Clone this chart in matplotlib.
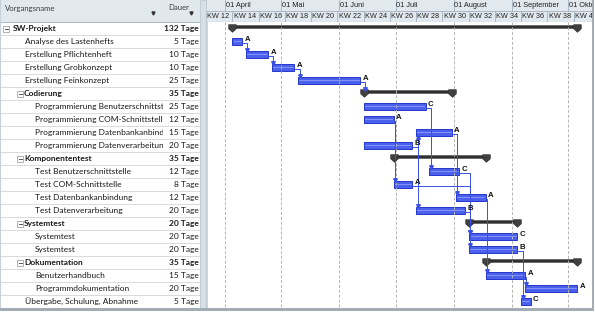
import matplotlib
matplotlib.use("Agg")
import matplotlib.pyplot as plt
import matplotlib.dates as mdates
from matplotlib.patches import Rectangle

W, H = 595, 316

# Vorgangsliste
namen = ["SW-Projekt", "Analyse des Lastenhefts", "Erstellung Pflichtenheft",
         "Erstellung Grobkonzept", "Erstellung Feinkonzept", "Codierung",
         "Programmierung Benutzerschnittstelle", "Programmierung COM-Schnittstelle",
         "Programmierung Datenbankanbindung", "Programmierung Datenverarbeitung",
         "Komponententest", "Test Benutzerschnittstelle", "Test COM-Schnittstelle",
         "Test Datenbankanbindung", "Test Datenverarbeitung", "Systemtest",
         "Systemtest", "Systemtest", "Dokumentation", "Benutzerhandbuch",
         "Programmdokumentation", "Übergabe, Schulung, Abnahme"]
dauer = [132, 5, 10, 10, 25, 35, 25, 12, 15, 20, 35, 12, 8, 12, 20, 20, 20, 20, 35, 15, 20, 5]
ebene = [0, 1, 1, 1, 1, 1, 2, 2, 2, 2, 1, 2, 2, 2, 2, 1, 2, 2, 1, 2, 2, 1]
sammel = [1, 0, 0, 0, 0, 1, 0, 0, 0, 0, 1, 0, 0, 0, 0, 1, 0, 0, 1, 0, 0, 0]
start = ["2010-04-05", "2010-04-05", "2010-04-12", "2010-04-26", "2010-05-10",
         "2010-06-14", "2010-06-14", "2010-06-14", "2010-07-12", "2010-06-14",
         "2010-06-30", "2010-07-19", "2010-06-30", "2010-08-02", "2010-07-12",
         "2010-08-09", "2010-08-09", "2010-08-09", "2010-08-18", "2010-08-18",
         "2010-09-08", "2010-09-06"]
ende = ["2010-10-06", "2010-04-10", "2010-04-24", "2010-05-08", "2010-06-12",
        "2010-07-31", "2010-07-17", "2010-06-30", "2010-07-31", "2010-07-10",
        "2010-08-18", "2010-08-04", "2010-07-10", "2010-08-18", "2010-08-07",
        "2010-09-04", "2010-09-04", "2010-09-04", "2010-10-06", "2010-09-08",
        "2010-10-06", "2010-09-11"]
ressource = ["", "A", "A", "A", "A", "", "C", "A", "A", "B", "", "C", "A", "A", "B",
             "", "C", "B", "", "A", "A", "C"]
verknuepfungen = [(1, 2), (2, 3), (3, 4), (4, 5), (6, 11), (7, 12), (12, 8), (9, 14),
                  (8, 13), (11, 16), (12, 16), (14, 17), (13, 19), (19, 20), (17, 21)]

monate = ["01 April", "01 Mai", "01 Juni", "01 Juli", "01 August", "01 September", "01 Oktober"]
monat_datum = ["2010-04-01", "2010-05-01", "2010-06-01", "2010-07-01", "2010-08-01",
               "2010-09-01", "2010-10-01"]
kw_labels = ["KW 12", "KW 14", "KW 16", "KW 18", "KW 20", "KW 22", "KW 24", "KW 26",
             "KW 28", "KW 30", "KW 32", "KW 34", "KW 36", "KW 38", "KW 40"]
kw_datum = ["2010-03-22", "2010-04-05", "2010-04-19", "2010-05-03", "2010-05-17",
            "2010-05-31", "2010-06-14", "2010-06-28", "2010-07-12", "2010-07-26",
            "2010-08-09", "2010-08-23", "2010-09-06", "2010-09-20", "2010-10-04"]

s = [mdates.datestr2num(d) for d in start]
e = [mdates.datestr2num(d) for d in ende]
n = len(namen)

TAB_FONT = "Lato"
KOPF_FONT = "Liberation Sans"
BLAU = "#4b60ec"
BLAU_RAND = "#2537c9"
LINK = "#3a4fe6"
KOPF_BG = "#e2e9ee"
KOPF_LINIE = "#a9b8c4"
ZEILE = 13
KOPF = 22
UNTEN = KOPF + n * ZEILE

fig = plt.figure(figsize=(W / 100, H / 100), dpi=100)
fig.patch.set_facecolor("white")


def px_axes(x0, y0, x1, y1):
    a = fig.add_axes([x0 / W, 1 - y1 / H, (x1 - x0) / W, (y1 - y0) / H])
    a.set_axis_off()
    return a


# ---- Tabelle links ----
ax_n = px_axes(0, 0, 163, UNTEN)
ax_n.set_xlim(0, 163)
ax_n.set_ylim(UNTEN, 0)
ax_d = px_axes(163, 0, 200, UNTEN)
ax_d.set_xlim(163, 200)
ax_d.set_ylim(UNTEN, 0)

for a, x0, x1 in [(ax_n, 0, 163), (ax_d, 163, 200)]:
    a.add_patch(Rectangle((x0, 0), x1 - x0, KOPF, fc=KOPF_BG, ec="none"))
    for k in range(n + 1):
        y = KOPF + k * ZEILE
        a.plot([x0, x1], [y, y], color="#dadada" if k > 0 else KOPF_LINIE, lw=0.7)
    a.plot([x1 - 0.3, x1 - 0.3], [0, UNTEN], color="#c9d1d8", lw=0.8)
ax_n.plot([0.4, 0.4], [0, UNTEN], color="#c9d1d8", lw=0.8)

ax_n.text(5, 8, "Vorgangsname", fontsize=5.6, family=TAB_FONT, color="#3c3c3c", va="center")
ax_n.plot(153, 13, marker="v", ms=2.2, color="#333333")
ax_d.text(168, 8, "Dauer", fontsize=5.6, family=TAB_FONT, color="#3c3c3c", va="center")
ax_d.plot(191, 13, marker="v", ms=2.2, color="#333333")

for i in range(n):
    yc = KOPF + (i + 0.5) * ZEILE
    if sammel[i]:
        bx = 3 if ebene[i] == 0 else 17
        ax_n.add_patch(Rectangle((bx, yc - 3), 6, 6, fc="white", ec="#9aa6b0", lw=0.6))
        ax_n.plot([bx + 1.5, bx + 4.5], [yc, yc], color="#555555", lw=0.7)
        tx = bx + 10 if ebene[i] == 0 else bx + 7
    else:
        tx = 25 if ebene[i] == 1 else 35
    gewicht = "bold" if sammel[i] else "normal"
    ax_n.text(tx, yc, namen[i], fontsize=6, family=TAB_FONT, weight=gewicht,
              color="#1a1a1a", va="center", ha="left", clip_on=True)
    ax_d.text(198.5, yc, f"{dauer[i]} Tage", fontsize=6, family=TAB_FONT, weight=gewicht,
              color="#1a1a1a", va="center", ha="right", clip_on=True)

# Trennstreifen zwischen Tabelle und Diagramm
fig.add_artist(Rectangle((200 / W, 1 - UNTEN / H), 6 / W, UNTEN / H,
                         transform=fig.transFigure, fc="#d8e0e6", ec="#b9c5ce", lw=0.6))

# ---- Zeitskala ----
april = mdates.datestr2num("2010-04-01")
px_tag = (568 - 225) / 183.0
xmin = april - (225 - 206) / px_tag
xmax = april + (592 - 225) / px_tag
px = 1.0 / px_tag

ax_h = px_axes(206, 0, 592, KOPF)
ax_h.set_xlim(xmin, xmax)
ax_h.set_ylim(KOPF, 0)
ax_h.add_patch(Rectangle((xmin, 0), xmax - xmin, KOPF, fc=KOPF_BG, ec="none"))
ax_h.plot([xmin, xmax], [11, 11], color=KOPF_LINIE, lw=0.7)
ax_h.plot([xmin, xmax], [KOPF - 0.3, KOPF - 0.3], color=KOPF_LINIE, lw=0.8)
for lab, d in zip(monate, monat_datum):
    x = mdates.datestr2num(d)
    ax_h.plot([x, x], [0, 11], color=KOPF_LINIE, lw=0.7)
    ax_h.text(x + 0.8 * px, 5.6, lab, fontsize=5.3, family=KOPF_FONT, color="#222222",
              va="center", ha="left", clip_on=True)
for lab, d in zip(kw_labels, kw_datum):
    x = mdates.datestr2num(d)
    ax_h.plot([x, x], [11, KOPF], color=KOPF_LINIE, lw=0.7)
    ax_h.text(x + 1.2 * px, 16.6, lab, fontsize=5.3, family=KOPF_FONT,
              color="#222222", va="center", ha="left", clip_on=True)

# ---- Diagramm ----
ax = px_axes(206, KOPF, 592, UNTEN)
ax.set_xlim(xmin, xmax)
ax.set_ylim(n - 0.5, -0.5)
ax.plot([xmin + 0.5 * px, xmin + 0.5 * px], [-0.5, n - 0.5], color="#c5d0d8", lw=1.2)

for d in monat_datum:
    x = mdates.datestr2num(d)
    ax.plot([x, x], [-0.5, n - 0.5], color="#b4b4b4", lw=0.7, dashes=(3, 2))

sammel_marker = [(-1, 1), (1, 1), (1, -0.1), (0, -1), (-1, -0.1), (-1, 1)]

for i in range(n):
    if sammel[i]:
        ax.barh(i - 0.13, e[i] - s[i], left=s[i], height=0.24, color="#303030",
                edgecolor="#5a5a5a", lw=0.5)
        ax.plot([s[i], e[i]], [i - 0.02, i - 0.02], ls="none", marker=sammel_marker,
                ms=5.5, color="#404040", mec="#2a2a2a", mew=0.4)
    else:
        ax.barh(i, e[i] - s[i], left=s[i], height=0.5, color=BLAU,
                edgecolor=BLAU_RAND, lw=0.7)
        ax.plot([s[i] + 1.2 * px, e[i] - 1.2 * px], [i - 0.05, i - 0.05],
                color="#8d9cfa", lw=0.6)
        ax.text(e[i] + 2.5 * px, i - 0.12, ressource[i], fontsize=5.6, family=KOPF_FONT,
                weight="bold", color="#111111", va="center", ha="left")

for p, q in verknuepfungen:
    xs = s[q] + 1.5 * px
    yp = p + 0.12
    if q > p:
        yt = q - 0.36
        mk = "v"
    else:
        yt = q + 0.36
        mk = "^"
    ax.plot([e[p], xs, xs], [yp, yp, yt], color=LINK, lw=0.7)
    ax.plot(xs, yt, marker=mk, ms=2.6, color=LINK)

# Rahmen
fig.add_artist(Rectangle((0, 1 - (UNTEN + 2.5) / H), 593 / W, 2.5 / H,
                         transform=fig.transFigure, fc="#a3adb5", ec="none"))
fig.add_artist(Rectangle((592 / W, 1 - (UNTEN + 2.5) / H), 1.8 / W, (UNTEN + 2.5) / H,
                         transform=fig.transFigure, fc="#a3adb5", ec="none"))

fig.savefig("out.png", dpi=100)
